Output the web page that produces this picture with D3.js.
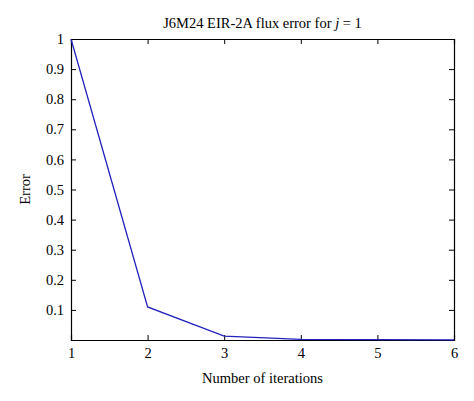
<!DOCTYPE html><html><head><script src="https://cdn.jsdelivr.net/npm/d3@7"></script>
<style>body{margin:0;background:#fff}</style></head><body><script>
const iterations=[1,2,3,4,5,6];
const errors=[1,0.11,0.013,0.002,0.001,0.0005];
const yTicks=[0.1,0.2,0.3,0.4,0.5,0.6,0.7,0.8,0.9,1];
const FF="'Liberation Serif', 'DejaVu Serif', serif";
const W=474,H=401,m={l:71,r:20,t:39,b:61};
const svg=d3.select("body").append("svg").attr("width",W).attr("height",H).style("font-family",FF);
const x=d3.scaleLinear().domain([1,6]).range([m.l,W-m.r]);
const y=d3.scaleLinear().domain([0,1]).range([H-m.b,m.t]);
const g=svg.append("g");
const fmt=d=>d===1?"1":d3.format(".1f")(d);
g.append("g").attr("transform",`translate(0,${H-m.b})`).call(d3.axisBottom(x).ticks(6).tickSize(-5).tickPadding(8).tickFormat(d3.format("d")));
g.append("g").attr("transform",`translate(0,${m.t})`).call(d3.axisTop(x).ticks(6).tickSize(-5).tickFormat(""));
g.append("g").attr("transform",`translate(${m.l},0)`).call(d3.axisLeft(y).tickValues(yTicks).tickSize(-5).tickPadding(7).tickFormat(fmt));
g.append("g").attr("transform",`translate(${W-m.r},0)`).call(d3.axisRight(y).tickValues(yTicks).tickSize(-5).tickFormat(""));
svg.selectAll(".domain").attr("stroke","#000").attr("stroke-width",1.2);
svg.selectAll(".tick line").attr("stroke","#000");
svg.selectAll(".tick text").attr("font-size",14.5).attr("fill","#000").style("font-family",FF);
svg.append("path").datum(iterations.map((d,i)=>[d,errors[i]])).attr("fill","none").attr("stroke","#2222bb").attr("stroke-width",1.3)
 .attr("d",d3.line().x(d=>x(d[0])).y(d=>y(d[1])));
svg.append("text").attr("x",(m.l+W-m.r)/2).attr("y",28).attr("text-anchor","middle").attr("font-size",14.5)
 .html('J6M24 EIR-2A flux error for <tspan font-style="italic">j</tspan> = 1');
svg.append("text").attr("x",(m.l+W-m.r)/2).attr("y",383).attr("text-anchor","middle").attr("font-size",14.5).text("Number of iterations");
svg.append("text").attr("transform",`translate(30,${(m.t+H-m.b)/2}) rotate(-90)`).attr("text-anchor","middle").attr("font-size",14.5).text("Error");
</script></body></html>
